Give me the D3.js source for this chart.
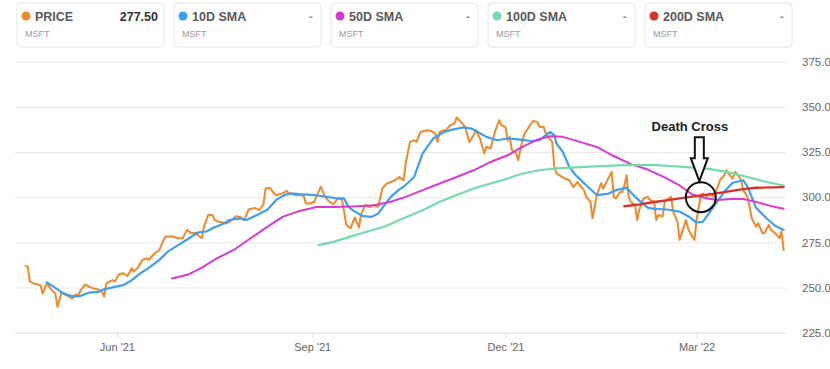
<!DOCTYPE html>
<html>
<head>
<meta charset="utf-8">
<script src="https://cdn.jsdelivr.net/npm/d3@7"></script>
<style>
  html, body { margin: 0; padding: 0; background: #fff; }
  svg { display: block; font-family: "Liberation Sans", Arial, sans-serif; }
</style>
</head>
<body>
<svg id="chart" width="830" height="369"></svg>
<script>
// ---------------- DATA ----------------
const legendNames  = ["PRICE", "10D SMA", "50D SMA", "100D SMA", "200D SMA"];
const legendValues = ["277.50", "-", "-", "-", "-"];
const legendTicker = "MSFT";
const seriesColors = ["#f0892b", "#3d9ff0", "#d83ad2", "#74dbab", "#d8322b"];

const yTicks = [225, 250, 275, 300, 325, 350, 375];
const xTickDates  = ["2021-06-01", "2021-09-01", "2021-12-01", "2022-03-01"];
const xTickLabels = ["Jun '21", "Sep '21", "Dec '21", "Mar '22"];

const price = [
 ["2021-04-19",262.0],["2021-04-20",261.6],["2021-04-21",253.3],["2021-04-23",252.3],["2021-04-26",251.3],
 ["2021-04-27",246.7],["2021-04-29",252.3],["2021-05-01",249.0],["2021-05-03",246.7],["2021-05-04",239.3],
 ["2021-05-06",247.6],["2021-05-07",246.3],["2021-05-09",245.2],["2021-05-11",243.9],["2021-05-12",245.8],
 ["2021-05-14",246.3],["2021-05-15",248.6],["2021-05-17",251.7],["2021-05-19",250.4],["2021-05-21",249.5],
 ["2021-05-23",249.0],["2021-05-25",247.6],["2021-05-26",245.2],["2021-05-27",252.3],["2021-05-30",254.1],
 ["2021-05-31",253.3],["2021-06-02",257.4],["2021-06-04",257.9],["2021-06-06",256.4],["2021-06-08",260.7],
 ["2021-06-09",258.8],["2021-06-11",261.2],["2021-06-13",265.3],["2021-06-15",266.2],["2021-06-16",265.3],
 ["2021-06-18",268.0],["2021-06-20",269.9],["2021-06-21",270.8],["2021-06-23",276.4],["2021-06-24",278.2],
 ["2021-06-27",278.2],["2021-06-30",277.3],["2021-07-02",277.3],["2021-07-04",281.9],["2021-07-06",280.0],
 ["2021-07-08",280.4],["2021-07-09",279.1],["2021-07-11",277.3],["2021-07-12",283.7],["2021-07-14",290.2],
 ["2021-07-16",290.2],["2021-07-17",287.4],["2021-07-18",286.7],["2021-07-20",286.3],["2021-07-22",285.4],
 ["2021-07-24",286.3],["2021-07-27",289.5],["2021-07-29",289.1],["2021-07-31",287.2],["2021-08-02",293.2],
 ["2021-08-05",294.1],["2021-08-07",292.8],["2021-08-09",296.1],["2021-08-10",304.8],["2021-08-12",305.2],
 ["2021-08-14",302.1],["2021-08-15",301.2],["2021-08-18",302.1],["2021-08-20",303.5],["2021-08-21",302.1],
 ["2021-08-24",301.2],["2021-08-26",301.2],["2021-08-28",300.6],["2021-08-29",296.5],["2021-08-31",296.5],
 ["2021-09-02",297.5],["2021-09-05",305.8],["2021-09-07",300.3],["2021-09-09",297.5],["2021-09-11",296.1],
 ["2021-09-13",299.3],["2021-09-15",298.7],["2021-09-16",292.0],["2021-09-17",284.7],["2021-09-19",282.8],
 ["2021-09-21",288.8],["2021-09-23",283.3],["2021-09-24",290.6],["2021-09-26",295.6],["2021-09-28",294.6],
 ["2021-09-30",295.6],["2021-10-02",294.6],["2021-10-04",304.8],["2021-10-06",307.5],["2021-10-08",308.4],
 ["2021-10-10",309.4],["2021-10-12",311.2],["2021-10-14",309.4],["2021-10-15",318.6],["2021-10-17",330.6],
 ["2021-10-19",331.5],["2021-10-20",330.6],["2021-10-22",336.1],["2021-10-25",337.1],["2021-10-27",336.7],
 ["2021-10-29",335.2],["2021-10-30",330.6],["2021-10-31",336.1],["2021-11-02",337.1],["2021-11-03",337.1],
 ["2021-11-05",339.9],["2021-11-07",340.8],["2021-11-08",344.1],["2021-11-10",341.7],["2021-11-12",338.9],
 ["2021-11-14",330.6],["2021-11-16",334.3],["2021-11-17",337.1],["2021-11-19",332.5],["2021-11-21",324.2],
 ["2021-11-22",327.9],["2021-11-24",327.0],["2021-11-26",336.1],["2021-11-28",342.6],["2021-11-29",339.9],
 ["2021-12-01",338.9],["2021-12-02",331.5],["2021-12-03",333.4],["2021-12-04",326.1],["2021-12-06",324.2],
 ["2021-12-07",320.5],["2021-12-09",331.5],["2021-12-10",335.2],["2021-12-12",338.9],["2021-12-14",342.2],
 ["2021-12-16",341.7],["2021-12-17",338.9],["2021-12-19",338.9],["2021-12-20",335.2],["2021-12-21",333.4],
 ["2021-12-23",330.6],["2021-12-24",316.9],["2021-12-25",313.2],["2021-12-28",311.0],["2021-12-31",309.4],
 ["2022-01-02",305.7],["2022-01-04",308.4],["2022-01-05",306.6],["2022-01-07",303.9],["2022-01-08",300.2],
 ["2022-01-10",297.5],["2022-01-11",288.3],["2022-01-13",301.2],["2022-01-15",307.7],["2022-01-16",304.8],
 ["2022-01-18",309.4],["2022-01-20",314.0],["2022-01-21",300.2],["2022-01-22",299.3],["2022-01-24",302.9],
 ["2022-01-25",302.9],["2022-01-26",306.6],["2022-01-27",312.1],["2022-01-28",300.2],["2022-01-29",297.5],
 ["2022-01-31",295.6],["2022-02-01",287.4],["2022-02-02",293.0],["2022-02-04",299.3],["2022-02-06",300.2],
 ["2022-02-07",298.5],["2022-02-09",297.5],["2022-02-10",287.4],["2022-02-11",290.2],["2022-02-13",289.3],
 ["2022-02-14",297.5],["2022-02-15",298.5],["2022-02-17",300.2],["2022-02-18",291.9],["2022-02-20",286.5],
 ["2022-02-21",276.4],["2022-02-23",283.7],["2022-02-24",287.4],["2022-02-25",282.8],["2022-02-26",280.1],
 ["2022-02-28",276.4],["2022-03-01",287.4],["2022-03-03",301.2],["2022-03-04",302.1],["2022-03-06",300.2],
 ["2022-03-07",302.1],["2022-03-09",300.2],["2022-03-11",305.7],["2022-03-12",309.4],["2022-03-14",312.1],
 ["2022-03-15",314.9],["2022-03-16",313.1],["2022-03-18",310.3],["2022-03-19",314.0],["2022-03-20",313.1],
 ["2022-03-22",309.4],["2022-03-23",303.9],["2022-03-25",300.2],["2022-03-26",294.6],["2022-03-27",288.3],
 ["2022-03-29",283.7],["2022-03-30",285.6],["2022-04-01",280.1],["2022-04-02",280.1],["2022-04-04",284.7],
 ["2022-04-05",281.9],["2022-04-07",280.1],["2022-04-09",277.3],["2022-04-10",281.0],["2022-04-11",270.8]
];

const sma10 = [
 ["2021-04-29",252.8],["2021-05-01",251.3],["2021-05-04",249.0],["2021-05-06",247.2],["2021-05-09",245.8],
 ["2021-05-12",245.0],["2021-05-15",245.4],["2021-05-19",247.2],["2021-05-23",247.6],["2021-05-26",249.0],
 ["2021-05-31",250.4],["2021-06-04",251.3],["2021-06-08",254.1],["2021-06-12",257.8],["2021-06-16",260.9],
 ["2021-06-21",265.3],["2021-06-25",269.9],["2021-06-30",273.6],["2021-07-05",277.3],["2021-07-09",280.4],
 ["2021-07-13",281.0],["2021-07-17",283.4],["2021-07-20",284.7],["2021-07-24",287.4],["2021-07-29",288.3],
 ["2021-08-01",287.4],["2021-08-06",290.2],["2021-08-11",293.2],["2021-08-15",298.5],["2021-08-19",301.2],
 ["2021-08-22",302.1],["2021-08-26",301.7],["2021-09-02",301.2],["2021-09-08",300.2],["2021-09-13",299.3],
 ["2021-09-16",299.3],["2021-09-18",294.6],["2021-09-21",292.0],["2021-09-25",289.5],["2021-09-29",289.1],
 ["2021-10-02",290.9],["2021-10-05",295.6],["2021-10-08",300.2],["2021-10-12",304.3],["2021-10-14",305.8],
 ["2021-10-19",311.2],["2021-10-23",324.2],["2021-10-28",332.5],["2021-11-02",336.1],["2021-11-06",337.4],
 ["2021-11-11",338.6],["2021-11-15",338.0],["2021-11-18",336.1],["2021-11-22",333.4],["2021-11-27",331.5],
 ["2021-12-02",332.5],["2021-12-08",331.9],["2021-12-13",331.1],["2021-12-17",331.5],["2021-12-20",334.3],
 ["2021-12-22",336.1],["2021-12-24",334.3],["2021-12-25",329.7],["2021-12-28",325.1],["2021-12-31",316.9],
 ["2022-01-03",312.3],["2022-01-05",310.0],["2022-01-08",306.6],["2022-01-13",301.2],["2022-01-18",301.8],
 ["2022-01-22",303.9],["2022-01-27",305.2],["2022-01-31",300.2],["2022-02-06",294.2],["2022-02-09",293.5],
 ["2022-02-15",293.2],["2022-02-21",292.0],["2022-02-25",289.5],["2022-03-01",286.0],["2022-03-04",286.5],
 ["2022-03-09",294.6],["2022-03-14",303.0],["2022-03-18",308.0],["2022-03-23",309.4],["2022-03-25",305.7],
 ["2022-03-29",294.2],["2022-04-03",288.2],["2022-04-07",284.2],["2022-04-11",281.9]
];

const sma50 = [
 ["2021-06-27",255.0],["2021-07-05",257.4],["2021-07-11",261.0],["2021-07-18",266.1],["2021-07-26",270.8],
 ["2021-08-03",277.3],["2021-08-11",283.7],["2021-08-18",289.1],["2021-08-26",292.4],["2021-09-03",294.6],
 ["2021-09-11",294.6],["2021-09-22",295.0],["2021-09-30",295.6],["2021-10-08",297.5],["2021-10-15",300.2],
 ["2021-10-23",303.9],["2021-10-31",307.6],["2021-11-08",311.2],["2021-11-16",314.9],["2021-11-24",319.5],
 ["2021-12-02",323.2],["2021-12-09",327.8],["2021-12-16",331.9],["2021-12-22",333.7],["2021-12-28",333.4],
 ["2022-01-05",330.6],["2022-01-13",327.8],["2022-01-21",322.8],["2022-01-29",318.3],["2022-02-06",315.3],
 ["2022-02-13",311.5],["2022-02-21",306.5],["2022-02-27",301.5],["2022-03-06",299.3],["2022-03-11",298.4],
 ["2022-03-17",299.0],["2022-03-23",299.0],["2022-03-29",297.4],["2022-04-06",294.8],["2022-04-11",293.6]
];

const sma100 = [
 ["2021-09-04",273.5],["2021-09-11",275.3],["2021-09-19",278.2],["2021-09-27",281.0],["2021-10-05",283.7],
 ["2021-10-12",287.4],["2021-10-23",292.8],["2021-10-31",297.5],["2021-11-08",301.2],["2021-11-16",304.8],
 ["2021-11-24",307.6],["2021-12-02",310.3],["2021-12-09",313.1],["2021-12-17",314.9],["2021-12-25",316.0],
 ["2022-01-10",316.9],["2022-01-26",317.8],["2022-02-10",317.8],["2022-02-21",316.9],["2022-03-06",315.8],
 ["2022-03-15",314.0],["2022-03-25",311.2],["2022-04-03",308.4],["2022-04-11",306.5]
];

const sma200 = [
 ["2022-01-26",295.0],["2022-02-02",296.0],["2022-02-10",297.5],["2022-02-18",298.8],["2022-02-26",300.2],
 ["2022-03-06",301.4],["2022-03-14",302.8],["2022-03-22",304.3],["2022-03-29",305.2],["2022-04-11",305.6]
];

const crossAnnotation = { date: "2022-03-03", value: 300, label: "Death Cross" };

// ---------------- CHART ----------------
const parse = d3.timeParse("%Y-%m-%d");
const svg = d3.select("#chart");

const x = d3.scaleTime()
  .domain([new Date(2021, 3, 14), new Date(2022, 3, 14)])
  .range([15, 790]);
const y = d3.scaleLinear().domain([225, 375]).range([332.7, 61.7]);
const gridRight = 786;

// gridlines
const grid = svg.append("g").attr("transform", "translate(15,0)")
  .call(d3.axisLeft(y).tickValues(yTicks).tickSize(-(gridRight - 15)).tickFormat(""));
grid.select(".domain").remove();
grid.selectAll("line").attr("stroke", "#e9e9e9").attr("stroke-width", 1);
grid.selectAll(".tick").filter(d => d === 225).select("line").attr("stroke", "#dcdcdc");

// y labels
const yAxis = svg.append("g").attr("transform", "translate(802,0)")
  .call(d3.axisRight(y).tickValues(yTicks).tickSize(0).tickPadding(0).tickFormat(d3.format(".1f")));
yAxis.select(".domain").remove();
yAxis.selectAll("text").attr("fill", "#666").attr("font-size", "11.5px")
  .attr("font-family", "'Liberation Sans',Arial,sans-serif");

// x axis
const xAxis = svg.append("g").attr("transform", `translate(0,${y(225)})`)
  .call(d3.axisBottom(x).tickValues(xTickDates.map(parse)).tickSize(5).tickPadding(6)
    .tickFormat((d, i) => xTickLabels[i]));
xAxis.select(".domain").remove();
xAxis.selectAll("line").attr("stroke", "#dddddd");
xAxis.selectAll("text").attr("fill", "#666").attr("font-size", "11px")
  .attr("font-family", "'Liberation Sans',Arial,sans-serif");

// lines
const line = d3.line().x(d => x(parse(d[0]))).y(d => y(d[1])).curve(d3.curveLinear);
const allSeries = [price, sma10, sma50, sma100, sma200];
const widths = [2, 2.2, 2, 2.2, 2.4];
allSeries.forEach((s, i) => {
  svg.append("path").datum(s)
    .attr("fill", "none")
    .attr("stroke", seriesColors[i])
    .attr("stroke-width", widths[i])
    .attr("stroke-linejoin", "round")
    .attr("stroke-linecap", "round")
    .attr("d", line);
});

// legend cards
const legend = svg.append("g");
legendNames.forEach((name, i) => {
  const bx = 17 + i * 157, by = 3, bw = 147, bh = 44;
  const g = legend.append("g").attr("transform", `translate(${bx},${by})`);
  g.append("rect").attr("width", bw).attr("height", bh).attr("rx", 4)
    .attr("fill", "#fff").attr("stroke", "#e6e6e6");
  g.append("circle").attr("cx", 9).attr("cy", 13).attr("r", 4.5).attr("fill", seriesColors[i]);
  g.append("text").attr("x", 18).attr("y", 18).text(name)
    .attr("font-size", "12.5px").attr("font-weight", "bold").attr("fill", "#595959");
  g.append("text").attr("x", legendValues[i] === "-" ? bw - 8 : bw - 6).attr("y", 18)
    .attr("text-anchor", "end").text(legendValues[i])
    .attr("font-size", "12.5px").attr("font-weight", "bold")
    .attr("fill", legendValues[i] === "-" ? "#999" : "#333");
  g.append("text").attr("x", 8).attr("y", 34).text(legendTicker)
    .attr("font-size", "9px").attr("fill", "#9a9a9a");
});

// annotation
const cx = x(parse(crossAnnotation.date)), cy = y(crossAnnotation.value);
const ann = svg.append("g");
ann.append("circle").attr("cx", cx).attr("cy", cy).attr("r", 15)
  .attr("fill", "none").attr("stroke", "#111").attr("stroke-width", 2);
const arrow = [
  [cx - 6, cy - 60], [cx + 3, cy - 60], [cx + 3, cy - 39], [cx + 7, cy - 39],
  [cx - 1.5, cy - 16], [cx - 10, cy - 39], [cx - 6, cy - 39]
];
ann.append("path").attr("d", d3.line()(arrow) + "Z")
  .attr("fill", "#fff").attr("stroke", "#111").attr("stroke-width", 2).attr("stroke-linejoin", "miter");
ann.append("text").attr("x", cx - 11).attr("y", cy - 66).attr("text-anchor", "middle")
  .text(crossAnnotation.label).attr("font-size", "13px").attr("font-weight", "bold").attr("fill", "#222");
</script>
</body>
</html>
